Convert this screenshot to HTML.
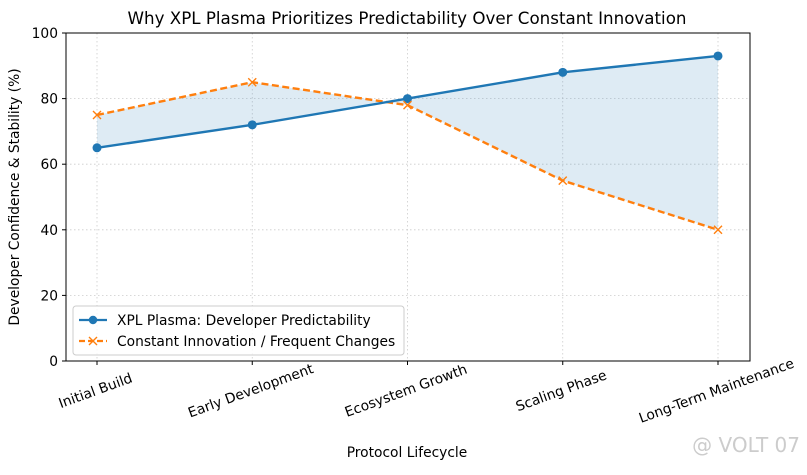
<!DOCTYPE html>
<html><head><meta charset="utf-8"><style>
body{margin:0;background:#fff;}
svg{font-family:"DejaVu Sans","Liberation Sans",sans-serif;}
</style></head><body>
<svg id="chart" width="807" height="470">
<text x="407" y="24" font-size="16.7" text-anchor="middle">Why XPL Plasma Prioritizes Predictability Over Constant Innovation</text>
<g id="grid"></g>
<g id="fill"></g>
<g id="lines"></g>
<rect x="66" y="33" width="684" height="328" fill="none" stroke="#000" stroke-width="1"/>
<g id="ticks"></g>
<text transform="translate(19,197) rotate(-90)" font-size="13.8" text-anchor="middle">Developer Confidence &amp; Stability (%)</text>
<text x="407" y="457" font-size="13.8" text-anchor="middle">Protocol Lifecycle</text>
<g>
<rect x="73" y="306" width="331" height="49" rx="3" fill="#fff" fill-opacity="0.8" stroke="#ccc"/>
<line x1="79" y1="320" x2="107" y2="320" stroke="#1f77b4" stroke-width="2.2"/>
<circle cx="93" cy="320" r="4.2" fill="#1f77b4"/>
<text x="117" y="325" font-size="13.8">XPL Plasma: Developer Predictability</text>
<line x1="79" y1="341" x2="107" y2="341" stroke="#ff7f0e" stroke-width="2.2" stroke-dasharray="6,3"/>
<path d="M89,337 l8,8 M97,337 l-8,8" stroke="#ff7f0e" stroke-width="1.4"/>
<text x="117" y="346" font-size="13.8">Constant Innovation / Frequent Changes</text>
</g>
<text x="800" y="452" font-size="20" fill="#ccc" text-anchor="end">@ VOLT 07</text>
</svg>
<script>
const categories=["Initial Build","Early Development","Ecosystem Growth","Scaling Phase","Long-Term Maintenance"];
const xplValues=[65,72,80,88,93];
const innovationValues=[75,85,78,55,40];
const yTicks=[0,20,40,60,80,100];
const NS="http://www.w3.org/2000/svg";
const X=i=>97+i*155.25;
const Y=v=>361-v*3.28;
function mk(tag,attrs,parent){const e=document.createElementNS(NS,tag);for(const k in attrs)e.setAttribute(k,attrs[k]);document.getElementById(parent).appendChild(e);return e;}
yTicks.forEach(t=>{
 const g=mk('line',{x1:66,x2:750,y1:Y(t),y2:Y(t),stroke:'#ccc','stroke-dasharray':'1.5,2.5','stroke-width':0.8},'grid');
 
 
 mk('line',{x1:62,x2:66,y1:Y(t),y2:Y(t),stroke:'#000'},'ticks');
 const l=mk('text',{x:58,y:Y(t)+5,'font-size':13.8,'text-anchor':'end'},'ticks');
 l.textContent=t;
 
 
});
categories.forEach((c,i)=>{
 const g=mk('line',{x1:X(i),x2:X(i),y1:33,y2:361,stroke:'#ccc','stroke-dasharray':'1.5,2.5','stroke-width':0.8},'grid');
 
 
 mk('line',{x1:X(i),x2:X(i),y1:361,y2:365,stroke:'#000'},'ticks');
 const l=mk('text',{x:0,y:0,'font-size':13.8,'text-anchor':'middle',transform:`translate(${X(i)},${395}) rotate(-20)`},'ticks');
 l.textContent=c;
 
 
});
let d=xplValues.map((v,i)=>(i?'L':'M')+X(i)+','+Y(v)).join(' ');
for(let i=innovationValues.length-1;i>=0;i--)d+=' L'+X(i)+','+Y(innovationValues[i]);
const f=mk('path',{d:d+' Z',fill:'#1f77b4','fill-opacity':0.15},'fill');


const lo=mk('path',{d:innovationValues.map((v,i)=>(i?'L':'M')+X(i)+','+Y(v)).join(' '),fill:'none',stroke:'#ff7f0e','stroke-width':2.4,'stroke-dasharray':'7,3.5'},'lines');


const lb=mk('path',{d:xplValues.map((v,i)=>(i?'L':'M')+X(i)+','+Y(v)).join(' '),fill:'none',stroke:'#1f77b4','stroke-width':2.4},'lines');


xplValues.forEach((v,i)=>{
 const c=mk('circle',{cx:X(i),cy:Y(v),r:4.5,fill:'#1f77b4'},'lines');
 
 
});
innovationValues.forEach((v,i)=>{
 const x=X(i),y=Y(v);
 const m=mk('path',{d:`M${x-4},${y-4} L${x+4},${y+4} M${x+4},${y-4} L${x-4},${y+4}`,stroke:'#ff7f0e','stroke-width':1.4},'lines');
 
 
});
</script>
</body></html>
